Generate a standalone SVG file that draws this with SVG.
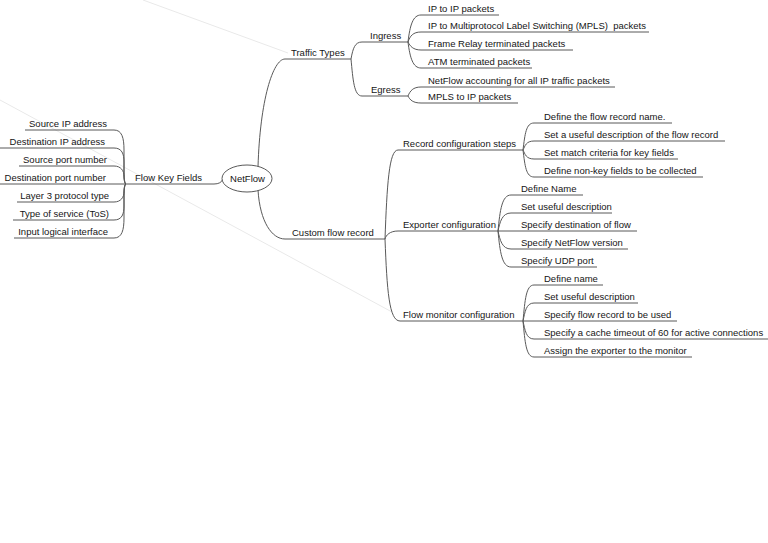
<svg xmlns="http://www.w3.org/2000/svg" width="768" height="543" viewBox="0 0 768 543">
<style>
text{font-family:"Liberation Sans",Arial,sans-serif;font-size:9.5px;fill:#151515}
.u,.c{fill:none;stroke:#595959;stroke-width:1}
.e{fill:#fff;stroke:#595959;stroke-width:1}
.f{stroke:#e9e9e9;stroke-width:1;fill:none}
.r{text-anchor:end}
.m{text-anchor:middle}
</style>
<rect width="768" height="543" fill="#fff"/>
<line class="f" x1="143" y1="0" x2="288" y2="53"/>
<line class="f" x1="0" y1="100" x2="392" y2="312"/>
<g id="connectors">
<!-- left brace -->
<path class="c" d="M114,130 C122,130 124,138 124,150 L124,172 C124,180 125,184 126,184"/>
<path class="c" d="M114,148 C122,148 124,154 124,162 L124,174 C124,181 125,184 126,184"/>
<path class="c" d="M114,166 C121,166 124,171 124,176 C124,181 125,184 126,184"/>
<path class="c" d="M114,202 C121,202 124,197 124,192 C124,187 125,184 126,184"/>
<path class="c" d="M114,220 C122,220 124,214 124,206 L124,194 C124,187 125,184 126,184"/>
<path class="c" d="M114,238 C122,238 124,230 124,218 L124,196 C124,188 125,184 126,184"/>
<path class="c" d="M214,184 Q221,184 223,179"/>
<!-- NetFlow to main branches -->
<path class="c" d="M258,167 C260,100 273,59 285,59"/>
<path class="c" d="M258,190 C260,222 272,239 285,239"/>
<!-- Traffic Types -->
<path class="c" d="M351,59 C353,48 355,42 362,42"/>
<path class="c" d="M351,59 C353,80 354,96 362,96"/>
<!-- Ingress -->
<path class="c" d="M408,42 C410,25 413,15 421,15"/>
<path class="c" d="M408,42 C410,36 413,32 421,32"/>
<path class="c" d="M408,42 C410,46 413,50 421,50"/>
<path class="c" d="M408,42 C410,58 413,68 421,68"/>
<!-- Egress -->
<path class="c" d="M408,96 C410,91 413,87 421,87"/>
<path class="c" d="M408,96 C410,100 413,103 421,103"/>
<!-- Custom flow record -->
<path class="c" d="M385,239 C387,185 389,150 398,150"/>
<path class="c" d="M385,239 C386,235 390,231 398,231"/>
<path class="c" d="M385,239 C387,290 389,321 400,321"/>
<!-- Record configuration steps -->
<path class="c" d="M523,150 C525,134 526,123 534,123"/>
<path class="c" d="M523,150 C525,146 526,141 534,141"/>
<path class="c" d="M523,150 C525,154 526,159 534,159"/>
<path class="c" d="M523,150 C525,166 526,177 534,177"/>
<!-- Exporter configuration -->
<path class="c" d="M498,231 C500,210 502,195 511,195"/>
<path class="c" d="M498,231 C500,222 502,213 511,213"/>
<path class="c" d="M498,231 L511,231"/>
<path class="c" d="M498,231 C500,240 502,249 511,249"/>
<path class="c" d="M498,231 C500,252 502,267 511,267"/>
<!-- Flow monitor configuration -->
<path class="c" d="M523,321 C525,300 526,285 534,285"/>
<path class="c" d="M523,321 C525,312 526,303 534,303"/>
<path class="c" d="M523,321 L534,321"/>
<path class="c" d="M523,321 C525,330 526,339 534,339"/>
<path class="c" d="M523,321 C525,342 526,357 534,357"/>
</g>
<g id="netflow"><ellipse class="e" cx="247" cy="178.5" rx="25" ry="13.5"/><text class="m" x="247.5" y="182">NetFlow</text></g>
<g id="flow-key-fields"><path class="u" d="M126,184 L214,184"/><text x="135" y="181">Flow Key Fields</text></g>
<g id="source-ip"><path class="u" d="M25,130 L114,130"/><text class="r" x="107" y="127">Source IP address</text></g>
<g id="destination-ip"><path class="u" d="M0,148 L114,148"/><text class="r" x="105" y="145">Destination IP address</text></g>
<g id="source-port"><path class="u" d="M19,166 L114,166"/><text class="r" x="107" y="163">Source port number</text></g>
<g id="destination-port"><path class="u" d="M0,184 L126,184"/><text class="r" x="106" y="181">Destination port number</text></g>
<g id="layer3"><path class="u" d="M17,202 L114,202"/><text class="r" x="109" y="199">Layer 3 protocol type</text></g>
<g id="tos"><path class="u" d="M13,220 L114,220"/><text class="r" x="109" y="217">Type of service (ToS)</text></g>
<g id="input-interface"><path class="u" d="M14,238 L114,238"/><text class="r" x="108" y="235">Input logical interface</text></g>
<g id="traffic-types"><path class="u" d="M285,59 L351,59"/><text x="291" y="56">Traffic Types</text></g>
<g id="ingress"><path class="u" d="M362,42 L408,42"/><text x="370" y="39">Ingress</text></g>
<g id="egress"><path class="u" d="M362,96 L408,96"/><text x="371" y="93">Egress</text></g>
<g id="ip-to-ip"><path class="u" d="M421,15 L499,15"/><text x="428" y="12">IP to IP packets</text></g>
<g id="ip-to-mpls"><path class="u" d="M421,32 L649,32"/><text x="428" y="29" xml:space="preserve">IP to Multiprotocol Label Switching (MPLS)  packets</text></g>
<g id="frame-relay"><path class="u" d="M421,50 L573,50"/><text x="428" y="47">Frame Relay terminated packets</text></g>
<g id="atm"><path class="u" d="M421,68 L532,68"/><text x="428" y="65">ATM terminated packets</text></g>
<g id="netflow-accounting"><path class="u" d="M421,87 L615,87"/><text x="428" y="84">NetFlow accounting for all IP traffic packets</text></g>
<g id="mpls-to-ip"><path class="u" d="M421,103 L518,103"/><text x="428" y="100">MPLS to IP packets</text></g>
<g id="custom-flow-record"><path class="u" d="M285,239 L385,239"/><text x="292" y="236">Custom flow record</text></g>
<g id="record-config"><path class="u" d="M398,150 L523,150"/><text x="403" y="147">Record configuration steps</text></g>
<g id="exporter-config"><path class="u" d="M398,231 L498,231"/><text x="403" y="228">Exporter configuration</text></g>
<g id="monitor-config"><path class="u" d="M400,321 L523,321"/><text x="403" y="318">Flow monitor configuration</text></g>
<g id="rc-name"><path class="u" d="M534,123 L672,123"/><text x="544" y="120">Define the flow record name.</text></g>
<g id="rc-desc"><path class="u" d="M534,141 L725,141"/><text x="544" y="138">Set a useful description of the flow record</text></g>
<g id="rc-match"><path class="u" d="M534,159 L678,159"/><text x="544" y="156">Set match criteria for key fields</text></g>
<g id="rc-nonkey"><path class="u" d="M534,177 L703,177"/><text x="544" y="174">Define non-key fields to be collected</text></g>
<g id="ex-name"><path class="u" d="M511,195 L583,195"/><text x="521" y="192">Define Name</text></g>
<g id="ex-desc"><path class="u" d="M511,213 L612,213"/><text x="521" y="210">Set useful description</text></g>
<g id="ex-dest"><path class="u" d="M511,231 L637,231"/><text x="521" y="228">Specify destination of flow</text></g>
<g id="ex-version"><path class="u" d="M511,249 L628,249"/><text x="521" y="246">Specify NetFlow version</text></g>
<g id="ex-udp"><path class="u" d="M511,267 L597,267"/><text x="521" y="264">Specify UDP port</text></g>
<g id="fm-name"><path class="u" d="M534,285 L603,285"/><text x="544" y="282">Define name</text></g>
<g id="fm-desc"><path class="u" d="M534,303 L638,303"/><text x="544" y="300">Set useful description</text></g>
<g id="fm-record"><path class="u" d="M534,321 L677,321"/><text x="544" y="318">Specify flow record to be used</text></g>
<g id="fm-cache"><path class="u" d="M534,339 L768,339"/><text x="544" y="336">Specify a cache timeout of 60 for active connections</text></g>
<g id="fm-exporter"><path class="u" d="M534,357 L692,357"/><text x="544" y="354">Assign the exporter to the monitor</text></g>
</svg>
